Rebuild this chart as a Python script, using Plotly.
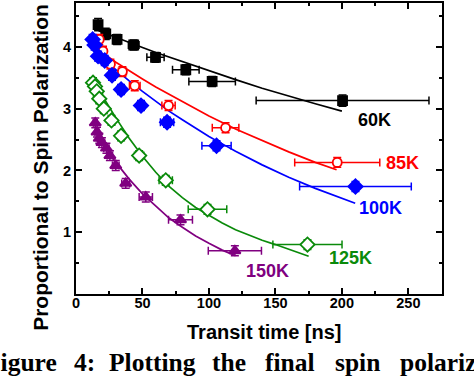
import plotly.graph_objects as go

# ---- data ----
# 60K (black squares)
x60 = [16.6, 22.4, 30.9, 43.4, 59.8, 82.6, 102.4, 200.5]
y60 = [4.36, 4.21, 4.12, 4.03, 3.83, 3.63, 3.44, 3.13]
ex60 = [2, 2, 3, 4, 6.5, 10, 17.5, 65]
ey60 = [0.1, 0.09, 0.08, 0.08, 0.08, 0.08, 0.08, 0.09]
fx60 = [17, 30, 40, 50, 60, 80, 100, 120, 140, 160, 180, 200]
fy60 = [4.26, 4.15, 4.07, 3.99, 3.91, 3.76, 3.61, 3.47, 3.33, 3.20, 3.08, 2.96]

# 85K (red open circles)
x85 = [17.5, 20.3, 25.9, 34.9, 44.2, 69.6, 112.5, 196.5]
y85 = [4.12, 3.93, 3.72, 3.60, 3.37, 3.05, 2.69, 2.13]
ex85 = [2, 2, 2.5, 3, 4, 5, 10, 32]
ey85 = [0.08, 0.08, 0.08, 0.08, 0.08, 0.08, 0.08, 0.08]
fx85 = [17, 20, 30, 40, 50, 60, 70, 80, 90, 100, 120, 140, 160, 180, 196]
fy85 = [3.94, 3.90, 3.75, 3.61, 3.48, 3.35, 3.23, 3.11, 2.99, 2.88, 2.67, 2.48, 2.30, 2.13, 2.01]

# 100K (blue diamonds)
x100 = [12.5, 14, 16.6, 21.6, 27.1, 33.9, 48.9, 68.5, 105.7, 210.2]
y100 = [4.12, 4.03, 3.85, 3.78, 3.54, 3.31, 3.05, 2.78, 2.40, 1.74]
ex100 = [1.5, 1.5, 2, 2, 2.5, 3, 3, 5, 11, 42]
ey100 = [0.08] * 10
fx100 = [13, 20, 30, 40, 50, 60, 70, 80, 90, 100, 110, 120, 140, 160, 180, 195, 210]
fy100 = [3.94, 3.81, 3.62, 3.45, 3.28, 3.12, 2.96, 2.82, 2.68, 2.55, 2.43, 2.31, 2.09, 1.89, 1.71, 1.59, 1.47]

# 125K (green open diamonds)
x125 = [12.8, 14.3, 15.6, 17.5, 20.9, 26.7, 33.9, 47.5, 67.5, 98.9, 174.1]
y125 = [3.42, 3.36, 3.28, 3.16, 3.00, 2.81, 2.56, 2.24, 1.84, 1.37, 0.80]
ex125 = [1.5, 1.5, 1.5, 2, 2, 2.5, 3, 3.5, 5, 14.5, 26]
ey125 = [0.08] * 11
fx125 = [13, 20, 30, 40, 50, 60, 70, 80, 90, 100, 110, 120, 130, 140, 150, 160, 175]
fy125 = [3.49, 3.20, 2.85, 2.52, 2.23, 1.97, 1.74, 1.56, 1.40, 1.27, 1.15, 1.04, 0.95, 0.87, 0.80, 0.72, 0.61]

# 150K (purple triangles)
x150 = [14.5, 15.8, 17.5, 19.5, 22.9, 25.5, 29.9, 37.4, 52.5, 78.6, 119.5]
y150 = [2.77, 2.62, 2.52, 2.45, 2.36, 2.24, 2.08, 1.79, 1.57, 1.20, 0.70]
ex150 = [1.5, 1.5, 1.5, 2, 2, 2, 2.5, 3, 5, 9, 20]
ey150 = [0.08] * 11
fx150 = [16, 20, 30, 40, 50, 60, 70, 80, 90, 100, 110, 120]
fy150 = [2.59, 2.45, 2.13, 1.86, 1.62, 1.42, 1.23, 1.08, 0.94, 0.82, 0.71, 0.62]

labels = ["60K", "85K", "100K", "125K", "150K"]
label_x = [224.3, 245.6, 229.3, 206.1, 144.0]
label_y = [2.82, 2.12, 1.40, 0.59, 0.37]

xticks = [0, 50, 100, 150, 200, 250]
xminor = [25, 75, 125, 175, 225, 275]
yticks = [1, 2, 3, 4]
yminor = [0.5, 1.5, 2.5, 3.5, 4.5]

caption_words = ["Figure", "4:", "Plotting", "the", "final", "spin", "polarization"]
caption_left_px = [-17, 72, 107, 210, 263, 333, 398]

# ---- styling ----
BLACK = "#000000"
RED = "#ff0000"
BLUE = "#0000ff"
GREEN = "#0a8a0a"
PURPLE = "#800080"

series = [
    (x60, y60, ex60, ey60, fx60, fy60, BLACK, "square", BLACK, 9),
    (x85, y85, ex85, ey85, fx85, fy85, RED, "circle", "white", 9),
    (x100, y100, ex100, ey100, fx100, fy100, BLUE, "diamond", BLUE, 11),
    (x125, y125, ex125, ey125, fx125, fy125, GREEN, "diamond", "white", 11),
    (x150, y150, ex150, ey150, fx150, fy150, PURPLE, "triangle-up", PURPLE, 10),
]

fig = go.Figure()
for (xs, ys, exs, eys, fxs, fys, col, sym, fill, sz) in series:
    fig.add_trace(go.Scatter(
        x=fxs, y=fys, mode="lines",
        line=dict(color=col, width=1.7), showlegend=False, hoverinfo="skip"))
for (xs, ys, exs, eys, fxs, fys, col, sym, fill, sz) in series:
    fig.add_trace(go.Scatter(
        x=xs, y=ys, mode="markers",
        marker=dict(symbol=sym, size=sz, color=fill,
                    line=dict(color=col, width=1.8)),
        error_x=dict(type="data", array=exs, color=col, thickness=1.5, width=4),
        error_y=dict(type="data", array=eys, color=col, thickness=1.5, width=4),
        showlegend=False))

label_colors = [BLACK, RED, BLUE, GREEN, PURPLE]
for t, lx, ly, c in zip(labels, label_x, label_y, label_colors):
    fig.add_annotation(x=lx, y=ly, xref="x", yref="y", text=t, showarrow=False,
                       xanchor="center", yanchor="middle",
                       font=dict(family="Liberation Sans", size=18, color=c, weight="bold"))

# axis titles and caption
PL, PT, PW, PH = 76, 1, 366, 293
def px2paper_x(px):
    return (px - PL) / PW
def px2paper_y(py):
    return (PT + PH - py) / PH

fig.add_annotation(xref="paper", yref="paper", x=px2paper_x(264), y=px2paper_y(332),
                   xanchor="center", yanchor="middle",
                   text="Transit time [ns]", showarrow=False,
                   font=dict(family="Liberation Sans", size=20, color="black", weight="bold"))
fig.add_annotation(xref="paper", yref="paper", x=px2paper_x(41), y=px2paper_y(167),
                   xanchor="center", yanchor="middle",
                   text="Proportional to Spin Polarization", showarrow=False, textangle=-90,
                   font=dict(family="Liberation Sans", size=21, color="black", weight="bold"))
for w, lpx in zip(caption_words, caption_left_px):
    fig.add_annotation(xref="paper", yref="paper", x=px2paper_x(lpx), y=px2paper_y(363),
                       xanchor="left", yanchor="middle", text=w, showarrow=False,
                       font=dict(family="Liberation Serif", size=25.5, color="black", weight="bold"))

axis_common = dict(
    showline=True, linecolor="black", linewidth=2, mirror="ticks",
    ticks="inside", ticklen=6, tickwidth=2, tickcolor="black",
    showgrid=False, zeroline=False,
    tickfont=dict(family="Liberation Sans", size=14.5, color="black", weight="bold"),
)
fig.update_xaxes(range=[0, 275.3], tickvals=xticks, ticktext=[str(v) for v in xticks],
                 ticklabelstandoff=-5,
                 minor=dict(tickvals=xminor, ticks="inside", ticklen=3, tickwidth=2, tickcolor="black"),
                 **axis_common)
fig.update_yaxes(range=[0, 4.71], tickvals=yticks, ticktext=[str(v) for v in yticks],
                 minor=dict(tickvals=yminor, ticks="inside", ticklen=3, tickwidth=2, tickcolor="black"),
                 **axis_common)

fig.update_layout(
    width=474, height=376,
    margin=dict(l=PL, r=474 - PL - PW, t=PT, b=376 - PT - PH),
    plot_bgcolor="white", paper_bgcolor="white",
)

fig.write_html("out.html", config={"displayModeBar": False},
               post_script="document.body.style.margin='0px';")
